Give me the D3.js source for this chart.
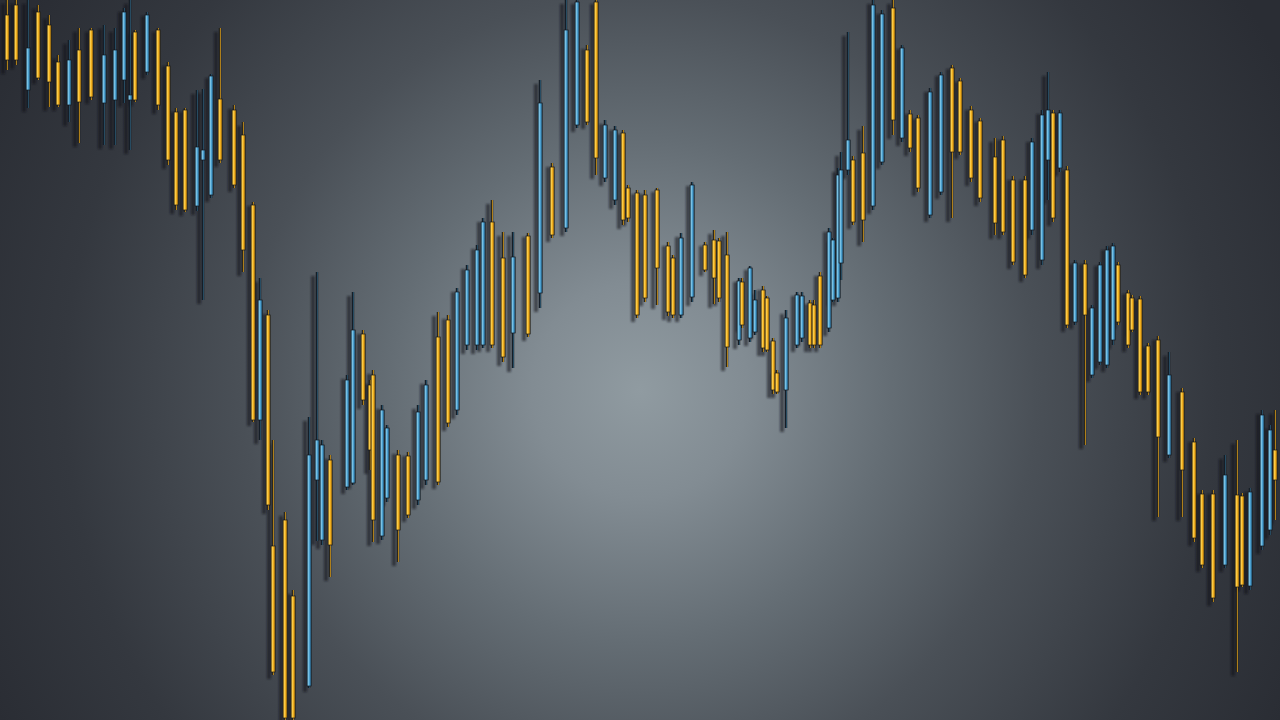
<!DOCTYPE html>
<html>
<head>
<meta charset="utf-8">
<script src="https://cdn.jsdelivr.net/npm/d3@7"></script>
<style>
  html, body { margin: 0; padding: 0; background: #2a2d34; overflow: hidden; }
  svg { display: block; }
</style>
</head>
<body>
<svg id="chart" width="1280" height="720"></svg>
<script>
// ---- data ----
const times = [7,16,28,38,49,58,69,79,91,104,115,124,130,135,147,158,168,176,185,197,203,211,220,234,243,253,260,268,273,285,293,309,317,322,330,347,353,363,370,373,382,387,398,408,418,426,438,448,457,467,477,483,492,503,513,528,540,552,566,577,587,596,605,615,623,628,637,645,657,668,673,681,692,705,714,719,727,739,742,750,755,763,767,773,777,786,797,802,810,814,820,829,833,838,841,848,853,863,873,882,893,902,910,918,930,941,952,960,971,980,995,1003,1013,1025,1032,1042,1048,1053,1060,1067,1075,1085,1092,1100,1107,1113,1118,1128,1132,1140,1148,1158,1169,1182,1194,1202,1213,1225,1237,1242,1250,1262,1270,1275];
const highs = [72.0,72.0,72.0,71.5,70.5,66.5,68.0,69.2,69.2,69.5,69.2,71.2,72.0,69.0,70.8,69.2,65.8,61.2,61.2,63.0,63.1,64.6,69.2,61.5,59.8,51.8,44.2,41.0,28.0,20.8,13.0,30.3,44.8,28.0,26.5,34.5,42.8,39.0,34.0,35.0,31.5,29.5,27.0,26.8,31.5,34.0,40.8,40.5,43.2,45.5,47.5,50.2,52.0,48.8,48.8,48.7,64.0,55.7,72.0,72.0,67.5,72.0,60.0,59.4,59.0,53.5,53.0,53.0,53.2,47.8,46.5,48.7,53.8,47.8,49.0,48.2,48.8,44.2,44.2,45.4,43.0,43.4,42.4,38.2,35.0,41.0,42.8,42.8,42.0,42.0,44.8,49.2,48.2,55.2,56.8,68.8,56.4,59.4,72.0,71.0,72.0,67.5,61.0,60.5,63.2,64.8,65.5,64.2,61.4,60.2,58.2,58.4,54.4,54.4,58.2,61.0,64.8,61.0,61.0,55.4,46.0,46.0,41.5,45.8,47.4,47.7,45.8,43.0,42.5,42.4,37.7,38.4,36.8,33.2,28.2,23.0,23.0,26.5,28.0,22.7,23.2,31.0,29.5,31.0];
const lows = [65.0,65.5,61.2,64.0,61.3,61.3,59.8,57.7,62.0,57.5,57.5,61.7,57.0,61.8,64.5,61.0,55.5,51.0,50.8,50.9,42.0,52.2,55.7,53.2,44.8,29.8,28.0,21.0,4.5,0.0,0.0,3.2,17.9,17.5,14.3,23.0,23.5,31.5,25.0,17.8,18.0,21.8,15.8,20.2,21.5,23.5,23.5,29.3,30.5,37.0,37.0,37.2,37.2,35.8,35.2,38.3,41.2,48.2,48.8,59.2,59.5,54.5,53.8,51.5,49.5,49.8,40.2,41.8,41.5,40.4,40.2,40.2,41.8,44.8,41.6,41.8,35.3,37.5,39.2,37.8,38.5,36.8,36.8,32.6,32.6,29.2,37.2,37.8,37.2,37.2,37.2,38.8,41.8,41.8,44.0,54.5,49.5,47.8,51.0,55.5,58.5,57.8,56.8,52.8,50.2,52.5,50.2,56.5,53.8,51.8,48.5,48.5,45.5,44.2,48.5,45.5,52.0,49.8,54.8,39.2,39.5,27.5,34.2,35.5,35.2,37.5,39.5,37.2,38.8,32.5,32.5,20.3,26.2,20.3,17.8,15.2,11.8,15.2,4.8,13.3,13.0,17.0,18.5,20.0];
const opens = [70.5,71.5,63.0,70.8,69.5,65.8,61.5,67.0,69.0,61.7,62.0,64.0,62.0,68.8,64.8,69.0,65.4,60.8,61.0,51.4,56.0,52.5,62.1,61.0,58.5,51.5,30.0,40.5,17.4,20.0,12.4,3.4,24.0,18.0,26.0,23.3,23.7,38.6,33.5,34.5,18.4,22.2,26.5,26.4,22.0,24.0,38.3,40.0,31.0,37.5,37.5,37.5,49.8,46.2,38.7,48.4,42.7,55.3,49.2,59.5,67.0,71.8,54.2,52.0,58.7,53.2,52.7,52.5,53.0,47.4,46.2,40.5,42.3,47.5,48.0,47.9,46.5,38.0,43.8,38.2,38.8,43.0,42.2,37.9,34.7,33.0,37.5,38.2,41.7,41.5,44.4,39.2,42.0,42.2,45.7,55.0,56.0,56.7,51.4,55.8,71.2,58.2,60.6,60.2,50.5,52.8,65.2,63.9,61.0,59.9,56.3,58.0,54.0,54.0,49.0,46.0,56.0,60.7,55.2,55.0,39.8,45.6,34.5,35.8,35.5,38.0,45.5,42.7,42.2,42.1,37.4,38.0,26.5,32.8,27.8,22.6,22.6,15.5,22.5,22.4,13.4,17.4,19.0,27.0];
const closes = [66.0,66.0,67.2,64.2,63.8,61.5,66.0,61.8,62.3,66.5,67.0,70.8,62.5,62.0,70.5,61.5,56.0,51.5,51.0,57.3,57.0,64.4,56.0,53.5,47.0,30.0,42.0,21.5,4.8,0.2,0.2,26.5,28.0,27.5,17.5,34.0,39.0,32.0,27.0,20.0,31.0,29.2,19.0,20.5,30.8,33.5,23.8,29.7,42.8,45.0,47.0,49.8,37.5,36.3,46.3,38.6,61.7,48.5,69.0,71.8,59.8,56.2,59.5,59.0,50.0,50.2,40.5,42.2,45.2,40.8,40.5,48.2,53.5,45.0,44.2,42.2,37.3,43.9,39.5,45.2,42.0,37.2,37.0,33.0,32.8,40.2,42.5,42.4,37.5,37.5,37.5,48.8,48.0,54.5,55.0,58.0,49.8,50.0,71.5,70.6,60.0,67.2,57.2,53.2,62.8,64.5,56.8,56.8,54.2,52.2,49.7,48.8,45.8,44.5,57.8,60.5,61.0,50.2,60.7,39.5,45.7,40.5,41.2,45.5,47.0,47.4,39.8,37.5,39.0,32.8,32.8,28.3,34.5,25.0,18.2,15.5,12.2,24.5,13.3,13.5,22.8,30.5,29.0,24.0];

const candles = times.map((t, i) => ({
  t, high: highs[i], low: lows[i], open: opens[i], close: closes[i],
  up: closes[i] >= opens[i]
}));

const W = 1280, H = 720;
const svg = d3.select("#chart");
const x = d3.scaleLinear().domain([0, 1280]).range([0, W]);
const y = d3.scaleLinear().domain([0, 72]).range([H, 0]);

const defs = svg.append("defs");

// background radial gradient
const bg = defs.append("radialGradient").attr("id", "bg")
  .attr("gradientUnits", "userSpaceOnUse")
  .attr("cx", 640).attr("cy", 390).attr("r", 720);
[[0, "#909ba1"], [0.15, "#828c93"], [0.35, "#646d74"], [0.55, "#4a5057"], [0.8, "#34383f"], [1, "#2a2d34"]]
  .forEach(([o, c]) => bg.append("stop").attr("offset", o).attr("stop-color", c));

function bodyGrad(id, light, base, dark) {
  const g = defs.append("linearGradient").attr("id", id)
    .attr("x1", 0).attr("x2", 1).attr("y1", 0).attr("y2", 0);
  g.append("stop").attr("offset", 0).attr("stop-color", dark);
  g.append("stop").attr("offset", 0.25).attr("stop-color", light);
  g.append("stop").attr("offset", 0.6).attr("stop-color", base);
  g.append("stop").attr("offset", 1).attr("stop-color", dark);
}
bodyGrad("gUp", "#8fd0ec", "#4a9fcf", "#245a7c");
bodyGrad("gDown", "#ffd95c", "#f0ae1e", "#9a6a0c");

svg.append("rect").attr("width", W).attr("height", H).attr("fill", "url(#bg)");

const blur = defs.append("filter").attr("id", "soft").attr("x", "-50%").attr("width", "200%");
blur.append("feGaussianBlur").attr("stdDeviation", 1.2);

const g = svg.append("g");

// shadows to the left
g.selectAll("rect.shadow").data(candles).join("rect")
  .attr("class", "shadow")
  .attr("x", d => x(d.t) - 6)
  .attr("width", 4)
  .attr("y", d => y(d.high) + 4)
  .attr("height", d => Math.max(1, y(d.low) - y(d.high)))
  .attr("fill", "#0b0e13")
  .attr("opacity", 0.55)
  .attr("filter", "url(#soft)");

// dark wicks
g.selectAll("line.wick").data(candles).join("line")
  .attr("class", "wick")
  .attr("x1", d => x(d.t)).attr("x2", d => x(d.t))
  .attr("y1", d => y(d.high)).attr("y2", d => y(d.low))
  .attr("stroke", "#12161c").attr("stroke-width", 2.4);

// coloured core of wicks
g.selectAll("line.core").data(candles).join("line")
  .attr("class", "core")
  .attr("x1", d => x(d.t) + 0.4).attr("x2", d => x(d.t) + 0.4)
  .attr("y1", d => y(d.high)).attr("y2", d => y(d.low))
  .attr("stroke", d => d.up ? "#3f86ad" : "#e0a21c")
  .attr("stroke-width", 1.1)
  .attr("opacity", d => d.up ? 0.5 : 0.8);

// bodies
g.selectAll("rect.body").data(candles).join("rect")
  .attr("class", "body")
  .attr("x", d => x(d.t) - 2)
  .attr("width", 4.2)
  .attr("y", d => y(Math.max(d.open, d.close)))
  .attr("height", d => Math.max(1.5, Math.abs(y(d.open) - y(d.close))))
  .attr("fill", d => d.up ? "url(#gUp)" : "url(#gDown)")
  .attr("stroke", "#15181d")
  .attr("stroke-width", 0.7);
</script>
</body>
</html>
